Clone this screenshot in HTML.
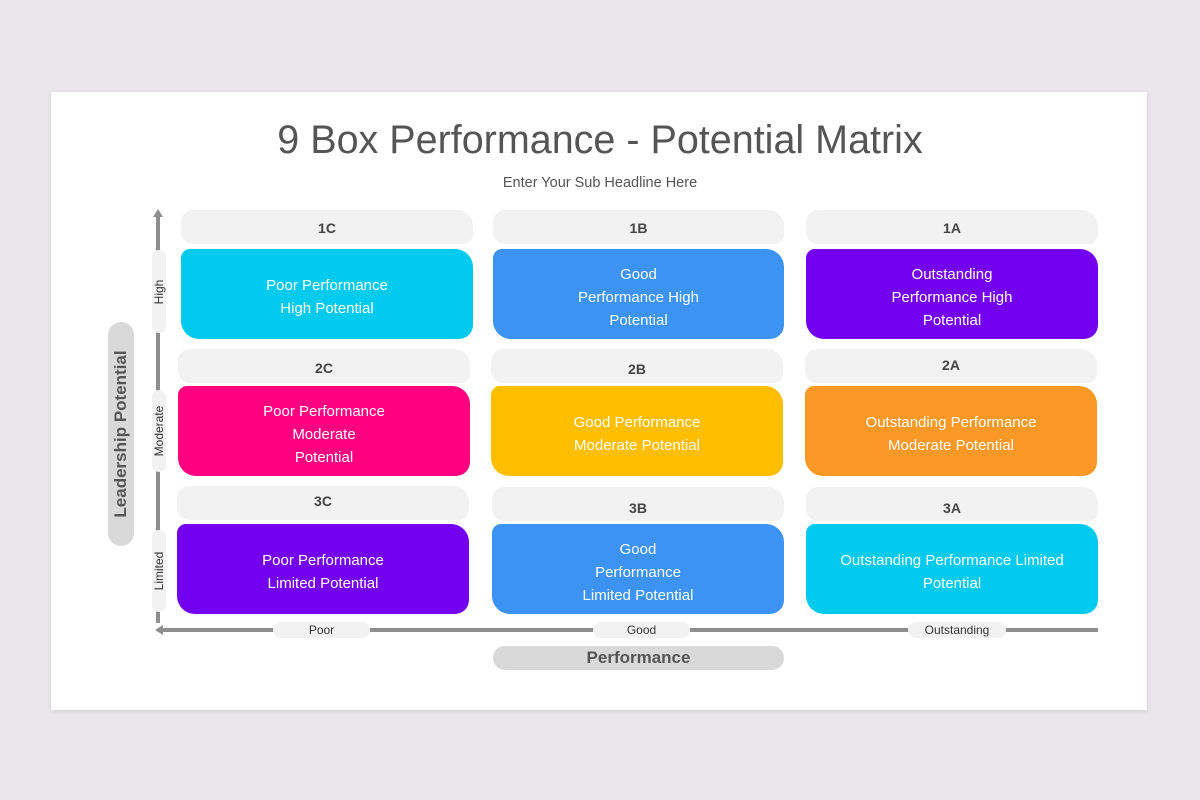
<!DOCTYPE html>
<html>
<head>
<meta charset="utf-8">
<style>
  html,body{margin:0;padding:0;}
  body{width:1200px;height:800px;background:#e9e7e9;position:relative;overflow:hidden;font-family:"Liberation Sans",Arial,sans-serif;}
  .slide{position:absolute;left:51px;top:92px;width:1096px;height:618px;background:#fff;box-shadow:0 1px 4px rgba(0,0,0,0.12);}
  .abs{position:absolute;}
  .title{left:0;top:115px;width:1200px;text-align:center;font-size:39.5px;color:#555;line-height:50px;}
  .sub{left:0;top:174px;width:1200px;text-align:center;font-size:14.5px;color:#555;line-height:18px;}
  .lbl{position:absolute;height:34px;width:292px;background:#f2f2f2;border-radius:12px 16px 10px 12px;font-weight:bold;font-size:14px;color:#444;text-align:center;}
  .lbl span{position:absolute;left:0;right:0;line-height:16px;}
  .box{position:absolute;height:90px;width:292px;box-sizing:border-box;padding-top:6px;border-radius:9px 18px 14px 18px;color:#fff;font-size:15px;line-height:23px;display:flex;flex-direction:column;align-items:center;justify-content:center;text-align:center;}
  .cy{background:#00cbef;}
  .bl{background:#3d93f3;}
  .pu{background:#7400f0;}
  .pk{background:#ff0080;}
  .ye{background:#ffbe00;}
  .or{background:#fa9825;}
  .vline{position:absolute;left:156px;top:216px;width:4px;height:407px;background:#8e8e8e;}
  .hline{position:absolute;left:162px;top:628px;width:936px;height:4px;background:#8e8e8e;}
  .vpill{position:absolute;left:152px;width:14px;background:#f2f2f2;border-radius:7px;}
  .vpill span{position:absolute;left:50%;top:50%;transform:translate(-50%,-50%) rotate(-90deg);font-size:12px;color:#333;white-space:nowrap;}
  .hpill{position:absolute;top:622px;height:16px;background:#f2f2f2;border-radius:8px;font-size:12px;color:#333;text-align:center;line-height:16px;}
</style>
</head>
<body>
<div class="slide"></div>

<div class="abs title">9 Box Performance - Potential Matrix</div>
<div class="abs sub">Enter Your Sub Headline Here</div>

<!-- axes -->
<div class="vline"></div>
<svg class="abs" style="left:150px;top:208px;" width="16" height="10"><polygon points="8,1 3,9 13,9" fill="#8e8e8e"/></svg>
<div class="hline"></div>
<svg class="abs" style="left:154px;top:624px;" width="10" height="12"><polygon points="1,6 9,1 9,11" fill="#8e8e8e"/></svg>

<div class="vpill" style="top:250px;height:83px;"><span>High</span></div>
<div class="vpill" style="top:390px;height:82px;"><span>Moderate</span></div>
<div class="vpill" style="top:530px;height:82px;"><span>Limited</span></div>

<div class="hpill" style="left:273px;width:97px;">Poor</div>
<div class="hpill" style="left:593px;width:97px;">Good</div>
<div class="hpill" style="left:908px;width:98px;">Outstanding</div>

<div class="abs" style="left:108px;top:322px;width:26px;height:224px;background:#d9d9d9;border-radius:13px;">
  <span style="position:absolute;left:50%;top:50%;transform:translate(-50%,-50%) rotate(-90deg);font-size:17px;font-weight:bold;color:#555;white-space:nowrap;">Leadership Potential</span>
</div>
<div class="abs" style="left:493px;top:646px;width:291px;height:24px;background:#d9d9d9;border-radius:12px;text-align:center;line-height:24px;font-size:17px;font-weight:bold;color:#555;">Performance</div>

<!-- Row 1 -->
<div class="lbl" style="left:181px;top:210px;"><span style="top:10px;">1C</span></div>
<div class="box cy" style="left:181px;top:249px;"><div>Poor Performance</div><div>High Potential</div></div>

<div class="lbl" style="left:493px;top:210px;width:291px;"><span style="top:10px;">1B</span></div>
<div class="box bl" style="left:493px;top:249px;width:291px;"><div>Good</div><div>Performance High</div><div>Potential</div></div>

<div class="lbl" style="left:806px;top:210px;"><span style="top:10px;">1A</span></div>
<div class="box pu" style="left:806px;top:249px;"><div>Outstanding</div><div>Performance High</div><div>Potential</div></div>

<!-- Row 2 -->
<div class="lbl" style="left:178px;top:349px;"><span style="top:11px;">2C</span></div>
<div class="box pk" style="left:178px;top:386px;"><div>Poor Performance</div><div>Moderate</div><div>Potential</div></div>

<div class="lbl" style="left:491px;top:349px;"><span style="top:12px;">2B</span></div>
<div class="box ye" style="left:491px;top:386px;"><div>Good Performance</div><div>Moderate Potential</div></div>

<div class="lbl" style="left:805px;top:349px;"><span style="top:8px;">2A</span></div>
<div class="box or" style="left:805px;top:386px;"><div>Outstanding Performance</div><div>Moderate Potential</div></div>

<!-- Row 3 -->
<div class="lbl" style="left:177px;top:486px;"><span style="top:7px;">3C</span></div>
<div class="box pu" style="left:177px;top:524px;"><div>Poor Performance</div><div>Limited Potential</div></div>

<div class="lbl" style="left:492px;top:487px;"><span style="top:13px;">3B</span></div>
<div class="box bl" style="left:492px;top:524px;"><div>Good</div><div>Performance</div><div>Limited Potential</div></div>

<div class="lbl" style="left:806px;top:487px;"><span style="top:13px;">3A</span></div>
<div class="box cy" style="left:806px;top:524px;"><div>Outstanding Performance Limited</div><div>Potential</div></div>

</body>
</html>
